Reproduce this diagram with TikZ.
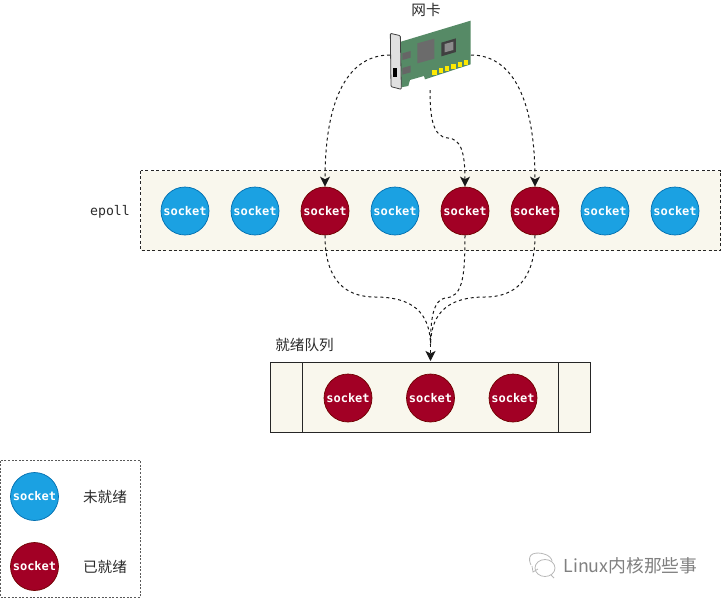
\documentclass[tikz,border=0pt]{standalone}
\usepackage{fontspec}
\usetikzlibrary{arrows.meta}
\newfontfamily\cjk{Noto Sans CJK SC}
\newfontfamily\sockfont[Scale=1]{DejaVu Sans Mono}
\definecolor{blueF}{HTML}{1BA1E2}
\definecolor{blueD}{HTML}{006EAF}
\definecolor{redF}{HTML}{A20025}
\definecolor{redD}{HTML}{6F0000}
\definecolor{paper}{HTML}{F9F7ED}
\definecolor{txt}{HTML}{2A2A2A}
\definecolor{board}{HTML}{568A66}
\tikzset{
  sock/.style={circle,minimum size=48pt,inner sep=0pt,line width=.7pt,text=white,
    font=\sockfont\bfseries\fontsize{12}{12}\selectfont},
  idle/.style={sock,draw=blueD,fill=blueF},
  ready/.style={sock,draw=redD,fill=redF},
  lbl/.style={inner sep=0pt,text=txt,font=\cjk\fontsize{14.6}{16}\selectfont},
  link/.style={draw=black!90,line width=1pt,dash pattern=on 3pt off 3pt},
  linkarrow/.style={link,-{Stealth[length=10pt,width=10pt,inset=2.5pt,sep=0pt]}},
  panel/.style={draw=black!85,fill=paper,line width=.9pt},
}
\begin{document}
\begin{tikzpicture}[x=1pt,y=-1pt]
\useasboundingbox (0,0) rectangle (721,598);
% epoll band
\draw[panel,dash pattern=on 3pt off 2.4pt] (140.5,170.5) rectangle (720.5,250.5);
\node[inner sep=0pt,text=txt,font=\sockfont\fontsize{13.2}{14}\selectfont] (epolllabel) at (110,211.5) {epoll};
\foreach \nm/\xx/\st in {a/185/idle,b/255/idle,c/325/ready,d/395/idle,e/465/ready,f/535/ready,g/605/idle,h/675/idle}{
  \node[\st] (\nm) at (\xx,211) {socket};
}
% ready queue
\draw[panel] (270.5,362.5) rectangle (590.5,432.5);
\draw[panel] (302.5,362.5) -- (302.5,432.5);
\draw[panel] (558.5,362.5) -- (558.5,432.5);
\node[lbl] (queuelabel) at (304.5,345) {就绪队列};
\node[ready] (q1) at (348,398) {socket};
\node[ready] (q2) at (430.5,398) {socket};
\node[ready] (q3) at (513,398) {socket};
% legend
\draw[draw=black!65,line width=.8pt,dash pattern=on 2pt off 1.6pt] (.5,460.5) rectangle (140.5,597);
\node[idle] (l1) at (34.5,496.5) {socket};
\node[ready] (l2) at (34.5,566.5) {socket};
\node[lbl] (l1t) at (105,496.5) {未就绪};
\node[lbl] (l2t) at (105,566.5) {已就绪};
% NIC
\node[lbl] (niclabel) at (426,9.5) {网卡};
\begin{scope}[shift={(370,0)},x=.3333pt,y=-.3333pt]
  \fill[board]
    (93,125) -- (302,62) -- (302,193) -- (165,238) -- (162,228) -- (120,240) -- (115,258) -- (93,262) -- cycle;
  \fill[fill=black!58] (142,130) -- (193,116) -- (193,176) -- (142,190) -- cycle;
  \fill[fill=black!75] (214,128) -- (258,115) -- (258,156) -- (214,169) -- cycle;
  \fill[fill=black!45] (224,132) -- (250,125) -- (250,150) -- (224,157) -- cycle;
  \fill[fill=black!60] (97,160) -- (122,153) -- (122,173) -- (97,180) -- cycle;
  \fill[fill=black!60] (97,204) -- (122,197) -- (122,217) -- (97,224) -- cycle;
  \foreach \px/\py in {187/210,206/204,225/198,244/191,263/186,282/179}{
    \fill[yellow!92!orange] (\px,\py) rectangle +(13,15);
  }
  \draw[fill=black!12,draw=black!75,line width=.8pt,rounded corners=1pt]
    (61,100) -- (91,107) -- (94,268) -- (63,260) -- cycle;
  \fill[black] (70,204) rectangle (81,230);
\end{scope}
\coordinate (nicL) at (390,55);
\coordinate (nicB) at (430,90);
\coordinate (nicR) at (471,55);
\coordinate (merge) at (430.5,361);
% connectors
\path[linkarrow] (nicL) .. controls (350,55) and (325,95) .. (c.north);
\path[linkarrow] (nicB) .. controls (430,115) and (432,137) .. (448,138) .. controls (460,139) and (465,150) .. (e.north);
\path[linkarrow] (nicR) .. controls (510,55) and (535,95) .. (f.north);
\path[link] (c.south) .. controls (325,280) and (345,297) .. (375,297) .. controls (412,297) and (430,312) .. (430.5,345);
\path[link] (e.south) .. controls (465,280) and (462,297) .. (445,298) .. controls (433,300) and (430.5,320) .. (430.5,345);
\path[link] (f.south) .. controls (535,280) and (515,297) .. (485,297) .. controls (449,297) and (431,312) .. (430.5,345);
\path[linkarrow] (430.5,338) -- (merge);
% watermark
\begin{scope}[draw=black!28,line width=.8pt]
  \draw (531,565) .. controls (525,552) and (538,552) .. (544,554) .. controls (549,555) and (552,559) .. (552,561);
  \draw (532,566) -- (533,572) -- (538,569);
  \draw (545,568) circle [x radius=10pt,y radius=8.5pt];
  \draw (551,575) -- (554,578);
\end{scope}
\node[inner sep=0pt,text=black!50,font=\cjk\fontsize{17.8}{19}\selectfont] (wm) at (630.5,566) {Linux内核那些事};
\end{tikzpicture}
\end{document}
